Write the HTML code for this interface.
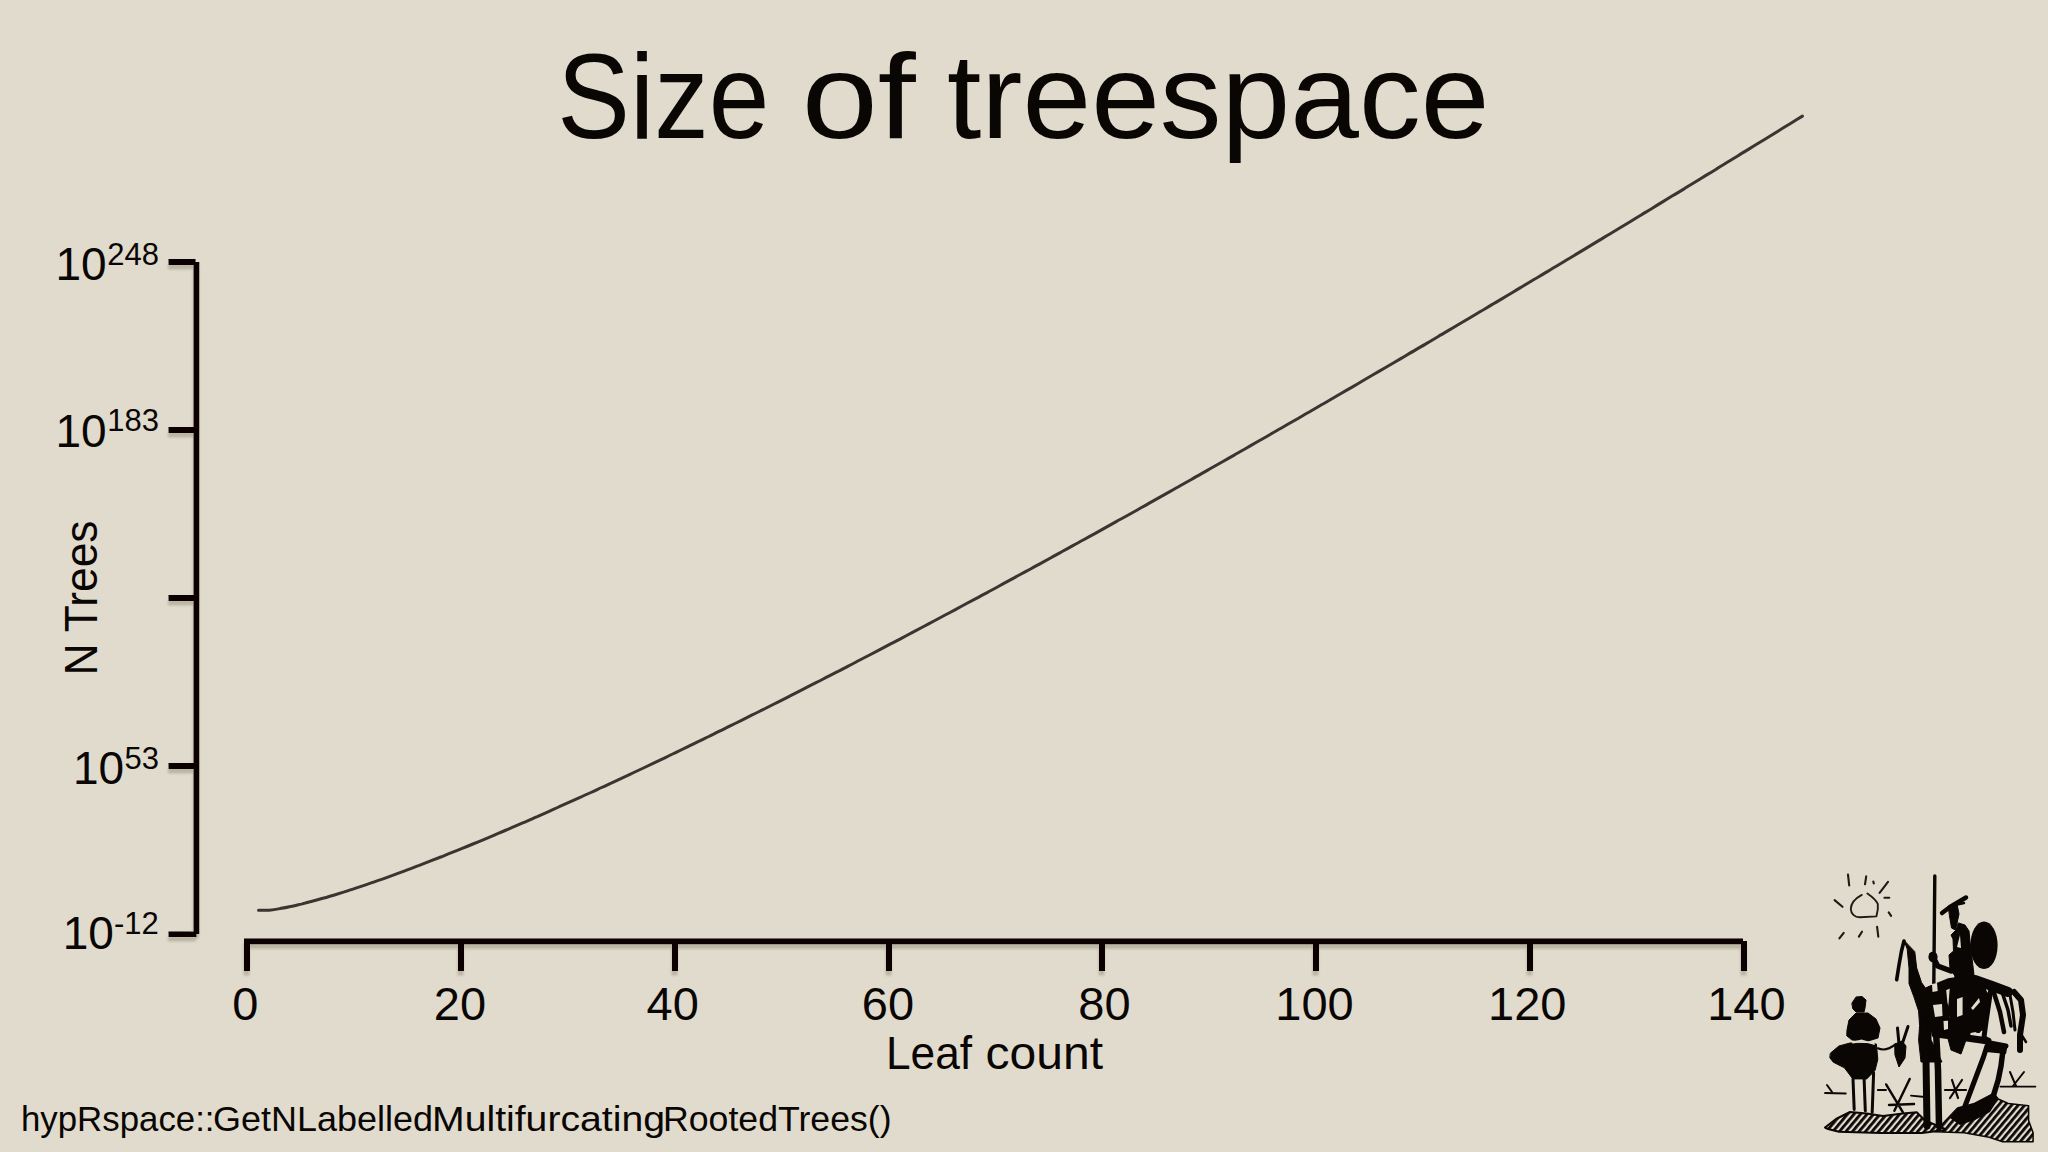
<!DOCTYPE html>
<html><head><meta charset="utf-8">
<style>
html,body{margin:0;padding:0;background:#e0dbcd;}
body{width:2048px;height:1152px;overflow:hidden;position:relative;}
svg{position:absolute;left:0;top:0;}
text{font-family:"Liberation Sans",sans-serif;fill:#0a0604;}
</style></head><body>
<svg width="2048" height="1152" viewBox="0 0 2048 1152">
<rect x="0" y="0" width="2048" height="1152" fill="#e0dbcd"/>
<!-- title -->
<g font-size="121">
<text x="557.3" y="138" textLength="212" lengthAdjust="spacingAndGlyphs">Size</text>
<text x="801.8" y="138" textLength="114" lengthAdjust="spacingAndGlyphs">of</text>
<text x="947" y="138" textLength="542.5" lengthAdjust="spacingAndGlyphs">treespace</text>
</g>
<!-- curve -->
<path d="M258.5 910.2 C260.3 910.2 265.6 910.5 269.2 910.2 C272.8 909.9 276.4 909.3 279.9 908.6 C283.5 908.0 287.1 907.3 290.7 906.5 C294.2 905.8 297.8 904.9 301.4 904.1 C305.0 903.2 308.5 902.3 312.1 901.3 C315.7 900.4 319.3 899.4 322.8 898.3 C326.4 897.3 330.0 896.3 333.6 895.2 C337.1 894.1 340.7 893.0 344.3 891.9 C347.8 890.7 351.4 889.6 355.0 888.4 C358.6 887.2 362.1 886.0 365.7 884.8 C369.3 883.6 372.9 882.4 376.4 881.1 C380.0 879.9 383.6 878.6 387.2 877.3 C390.7 876.0 394.3 874.7 397.9 873.4 C401.5 872.1 405.0 870.8 408.6 869.4 C412.2 868.1 415.7 866.7 419.3 865.4 C422.9 864.0 426.5 862.6 430.0 861.2 C433.6 859.8 437.2 858.4 440.8 857.0 C444.3 855.6 447.9 854.2 451.5 852.7 C455.1 851.3 458.6 849.9 462.2 848.4 C465.8 847.0 469.4 845.5 472.9 844.0 C476.5 842.5 480.1 841.1 483.7 839.6 C487.2 838.1 490.8 836.6 494.4 835.1 C497.9 833.6 501.5 832.0 505.1 830.5 C508.7 829.0 512.2 827.5 515.8 825.9 C519.4 824.4 523.0 822.8 526.5 821.3 C530.1 819.7 533.7 818.1 537.3 816.6 C540.8 815.0 544.4 813.4 548.0 811.8 C551.6 810.2 555.1 808.6 558.7 807.0 C562.3 805.4 565.9 803.8 569.4 802.2 C573.0 800.6 576.6 799.0 580.1 797.4 C583.7 795.7 587.3 794.1 590.9 792.5 C594.4 790.8 598.0 789.2 601.6 787.5 C605.2 785.9 608.7 784.2 612.3 782.6 C615.9 780.9 619.5 779.2 623.0 777.6 C626.6 775.9 630.2 774.2 633.8 772.5 C637.3 770.9 640.9 769.2 644.5 767.5 C648.0 765.8 651.6 764.1 655.2 762.4 C658.8 760.7 662.3 759.0 665.9 757.3 C669.5 755.5 673.1 753.8 676.6 752.1 C680.2 750.4 683.8 748.6 687.4 746.9 C690.9 745.2 694.5 743.4 698.1 741.7 C701.7 740.0 705.2 738.2 708.8 736.5 C712.4 734.7 716.0 733.0 719.5 731.2 C723.1 729.4 726.7 727.7 730.2 725.9 C733.8 724.1 737.4 722.4 741.0 720.6 C744.5 718.8 748.1 717.0 751.7 715.2 C755.3 713.5 758.8 711.7 762.4 709.9 C766.0 708.1 769.6 706.3 773.1 704.5 C776.7 702.7 780.3 700.9 783.9 699.1 C787.4 697.3 791.0 695.4 794.6 693.6 C798.2 691.8 801.7 690.0 805.3 688.2 C808.9 686.3 812.4 684.5 816.0 682.7 C819.6 680.9 823.2 679.0 826.7 677.2 C830.3 675.3 833.9 673.5 837.5 671.7 C841.0 669.8 844.6 668.0 848.2 666.1 C851.8 664.3 855.3 662.4 858.9 660.5 C862.5 658.7 866.1 656.8 869.6 655.0 C873.2 653.1 876.8 651.2 880.3 649.4 C883.9 647.5 887.5 645.6 891.1 643.7 C894.6 641.8 898.2 640.0 901.8 638.1 C905.4 636.2 908.9 634.3 912.5 632.4 C916.1 630.5 919.7 628.6 923.2 626.7 C926.8 624.8 930.4 622.9 934.0 621.0 C937.5 619.1 941.1 617.2 944.7 615.3 C948.3 613.4 951.8 611.5 955.4 609.6 C959.0 607.7 962.5 605.8 966.1 603.8 C969.7 601.9 973.3 600.0 976.8 598.1 C980.4 596.1 984.0 594.2 987.6 592.3 C991.1 590.4 994.7 588.4 998.3 586.5 C1001.9 584.5 1005.4 582.6 1009.0 580.7 C1012.6 578.7 1016.2 576.8 1019.7 574.8 C1023.3 572.9 1026.9 570.9 1030.5 569.0 C1034.0 567.0 1037.6 565.1 1041.2 563.1 C1044.7 561.2 1048.3 559.2 1051.9 557.2 C1055.5 555.3 1059.0 553.3 1062.6 551.3 C1066.2 549.4 1069.8 547.4 1073.3 545.4 C1076.9 543.5 1080.5 541.5 1084.1 539.5 C1087.6 537.5 1091.2 535.5 1094.8 533.6 C1098.4 531.6 1101.9 529.6 1105.5 527.6 C1109.1 525.6 1112.6 523.6 1116.2 521.6 C1119.8 519.6 1123.4 517.7 1126.9 515.7 C1130.5 513.7 1134.1 511.7 1137.7 509.7 C1141.2 507.7 1144.8 505.7 1148.4 503.6 C1152.0 501.6 1155.5 499.6 1159.1 497.6 C1162.7 495.6 1166.3 493.6 1169.8 491.6 C1173.4 489.6 1177.0 487.6 1180.6 485.5 C1184.1 483.5 1187.7 481.5 1191.3 479.5 C1194.8 477.4 1198.4 475.4 1202.0 473.4 C1205.6 471.4 1209.1 469.3 1212.7 467.3 C1216.3 465.3 1219.9 463.2 1223.4 461.2 C1227.0 459.2 1230.6 457.1 1234.2 455.1 C1237.7 453.1 1241.3 451.0 1244.9 449.0 C1248.5 446.9 1252.0 444.9 1255.6 442.8 C1259.2 440.8 1262.7 438.7 1266.3 436.7 C1269.9 434.6 1273.5 432.6 1277.0 430.5 C1280.6 428.5 1284.2 426.4 1287.8 424.3 C1291.3 422.3 1294.9 420.2 1298.5 418.2 C1302.1 416.1 1305.6 414.0 1309.2 412.0 C1312.8 409.9 1316.4 407.8 1319.9 405.7 C1323.5 403.7 1327.1 401.6 1330.7 399.5 C1334.2 397.5 1337.8 395.4 1341.4 393.3 C1344.9 391.2 1348.5 389.1 1352.1 387.1 C1355.7 385.0 1359.2 382.9 1362.8 380.8 C1366.4 378.7 1370.0 376.6 1373.5 374.5 C1377.1 372.4 1380.7 370.4 1384.3 368.3 C1387.8 366.2 1391.4 364.1 1395.0 362.0 C1398.6 359.9 1402.1 357.8 1405.7 355.7 C1409.3 353.6 1412.9 351.5 1416.4 349.4 C1420.0 347.3 1423.6 345.2 1427.1 343.1 C1430.7 340.9 1434.3 338.8 1437.9 336.7 C1441.4 334.6 1445.0 332.5 1448.6 330.4 C1452.2 328.3 1455.7 326.2 1459.3 324.0 C1462.9 321.9 1466.5 319.8 1470.0 317.7 C1473.6 315.6 1477.2 313.4 1480.8 311.3 C1484.3 309.2 1487.9 307.1 1491.5 304.9 C1495.0 302.8 1498.6 300.7 1502.2 298.6 C1505.8 296.4 1509.3 294.3 1512.9 292.2 C1516.5 290.0 1520.1 287.9 1523.6 285.8 C1527.2 283.6 1530.8 281.5 1534.4 279.3 C1537.9 277.2 1541.5 275.1 1545.1 272.9 C1548.7 270.8 1552.2 268.6 1555.8 266.5 C1559.4 264.3 1563.0 262.2 1566.5 260.0 C1570.1 257.9 1573.7 255.7 1577.2 253.6 C1580.8 251.4 1584.4 249.3 1588.0 247.1 C1591.5 245.0 1595.1 242.8 1598.7 240.6 C1602.3 238.5 1605.8 236.3 1609.4 234.2 C1613.0 232.0 1616.6 229.8 1620.1 227.7 C1623.7 225.5 1627.3 223.3 1630.9 221.2 C1634.4 219.0 1638.0 216.8 1641.6 214.7 C1645.2 212.5 1648.7 210.3 1652.3 208.2 C1655.9 206.0 1659.4 203.8 1663.0 201.6 C1666.6 199.5 1670.2 197.3 1673.7 195.1 C1677.3 192.9 1680.9 190.7 1684.5 188.6 C1688.0 186.4 1691.6 184.2 1695.2 182.0 C1698.8 179.8 1702.3 177.6 1705.9 175.4 C1709.5 173.3 1713.1 171.1 1716.6 168.9 C1720.2 166.7 1723.8 164.5 1727.3 162.3 C1730.9 160.1 1734.5 157.9 1738.1 155.7 C1741.6 153.5 1745.2 151.3 1748.8 149.1 C1752.4 146.9 1755.9 144.7 1759.5 142.5 C1763.1 140.3 1766.7 138.1 1770.2 135.9 C1773.8 133.7 1777.4 131.5 1781.0 129.3 C1784.5 127.1 1788.1 124.9 1791.7 122.7 C1795.3 120.5 1800.6 117.2 1802.4 116.1" fill="none" stroke="#3a3531" stroke-width="3" stroke-linecap="round"/>
<defs><filter id="sh" x="-5%" y="-5%" width="110%" height="120%"><feDropShadow dx="-0.5" dy="4.5" stdDeviation="1" flood-color="#9c9682" flood-opacity="0.55"/></filter></defs>
<!-- y axis -->
<g fill="#0a0604" filter="url(#sh)">
<rect x="193.5" y="262" width="5.8" height="672"/>
<rect x="168.5" y="259" width="27" height="6"/>
<rect x="168.5" y="427" width="27" height="6"/>
<rect x="168.5" y="595" width="27" height="6"/>
<rect x="168.5" y="763" width="27" height="6"/>
<rect x="168.5" y="931.5" width="28" height="5.5"/>
<!-- x axis -->
<rect x="244" y="938.5" width="1499" height="5.8"/>
<rect x="244" y="941" width="6" height="30"/>
<rect x="458" y="941" width="6" height="30"/>
<rect x="672" y="941" width="6" height="30"/>
<rect x="886" y="941" width="6" height="30"/>
<rect x="1099" y="941" width="6" height="30"/>
<rect x="1313" y="941" width="6" height="30"/>
<rect x="1527" y="941" width="6" height="30"/>
<rect x="1741" y="941" width="6" height="30"/>
</g>
<!-- y labels -->
<g font-size="46">
<text x="55.5" y="280">10</text><text x="107.3" y="264.5" font-size="31">248</text>
<text x="55.5" y="447">10</text><text x="107.3" y="431" font-size="31">183</text>
<text x="73" y="784">10</text><text x="124.4" y="769" font-size="31">53</text>
<text x="62.7" y="949">10</text><text x="113.9" y="933.5" font-size="31">-12</text>
</g>
<text x="97" y="675.6" font-size="46" textLength="155" lengthAdjust="spacingAndGlyphs" transform="rotate(-90 97 675.6)">N Trees</text>
<!-- x labels -->
<g font-size="47" text-anchor="middle">
<text x="245.3" y="1020">0</text>
<text x="460" y="1020">20</text>
<text x="672.7" y="1020">40</text>
<text x="888" y="1020">60</text>
<text x="1104.4" y="1020">80</text>
<text x="1314.5" y="1020">100</text>
<text x="1527.3" y="1020">120</text>
<text x="1746.4" y="1020">140</text>
</g>
<text x="886" y="1069" font-size="46" textLength="86" lengthAdjust="spacingAndGlyphs">Leaf</text><text x="985.5" y="1069" font-size="46" textLength="117.5" lengthAdjust="spacingAndGlyphs">count</text>
<g font-size="35">
<text x="21" y="1130.5" textLength="193.5" lengthAdjust="spacingAndGlyphs">hypRspace::</text>
<text x="213" y="1130.5" textLength="220" lengthAdjust="spacingAndGlyphs">GetNLabelled</text>
<text x="432" y="1130.5" textLength="233" lengthAdjust="spacingAndGlyphs">Multifurcating</text>
<text x="663" y="1130.5" textLength="228.6" lengthAdjust="spacingAndGlyphs">RootedTrees()</text>
</g>
<!-- quixote -->
<g id="quixote" fill="#0a0604" stroke="#0a0604" stroke-linecap="round" stroke-linejoin="round">
<defs>
<pattern id="hatch" patternUnits="userSpaceOnUse" width="5" height="5" patternTransform="rotate(40)"><rect x="0" y="0" width="2.8" height="5" fill="#0a0604" stroke="none"/></pattern>
</defs>
<!-- sun -->
<path d="M1861.8,894.9 C1856,898 1851,903 1850.8,909 C1851,914 1855,917.5 1860,917.3 L1876.4,916.4 L1877.8,909.4 L1877.8,903.9 C1876,900 1871,896 1867.4,893.5" fill="none" stroke-width="1.9" stroke="#1e1a16"/>
<g stroke-width="2.1" fill="none" stroke="#1e1a16">
<path d="M1848,874.6 L1849.2,885.5"/>
<path d="M1866.2,876.4 L1865,884.3"/>
<path d="M1873.3,881.5 L1873.8,883.5"/>
<path d="M1888,881.9 L1879.6,892.8"/>
<path d="M1884.4,897.7 L1889.3,897.7"/>
<path d="M1834.6,900.1 L1842.5,906.8"/>
<path d="M1888.7,912.3 L1891.1,915.9"/>
<path d="M1839.4,938.4 L1843.7,932.9"/>
<path d="M1858.9,936.6 L1862,931.7"/>
<path d="M1877.1,926.8 L1878.3,936.6"/>
</g>
<!-- lance -->
<path d="M1934.8,876 L1934.3,930 L1933.8,985" stroke-width="3.4" fill="none"/>
<!-- helmet brim + feather -->
<path d="M1942,913 L1950,907 L1966,897.5" stroke-width="4.5" fill="none"/>
<path d="M1955,905 L1964,903" stroke-width="2.5" fill="none"/>
<path d="M1948.5,906 L1957,904 L1959,914 L1955.5,930 L1951.5,928 L1949.5,916 Z" stroke-width="1"/>
<!-- torso -->
<path d="M1958.5,923 L1965,925 L1969,931 L1970,942 L1972,958 L1974,975 L1977,990 L1972,1001 L1953,1001 L1952,988 L1955,976 L1950,969 L1949,955 L1953.5,951 L1953,939 L1951,935 L1956,930 Z" stroke-width="1"/>
<path d="M1957,947 L1960,935 L1961,948 Z" fill="#e0dbcd" stroke="none"/>
<!-- shield -->
<ellipse cx="1984" cy="945.3" rx="13.6" ry="23.8" stroke="none"/>
<!-- arm + hand -->
<path d="M1932,955 L1937.7,966 L1951,971" stroke-width="5.5" fill="none"/>
<ellipse cx="1933" cy="957" rx="4.6" ry="5.4" stroke="none"/>
<!-- horse head: face line -->
<path d="M1904,941 L1901.5,951 L1899,965 L1896.7,979.6" stroke-width="3.6" fill="none"/>
<!-- neck -->
<path d="M1904,940.5 L1907.2,949 L1909,968 L1909,983.5 L1913.9,996.8 L1918.6,1011 L1919.6,1025.5 L1918.6,1040 L1921,1062 L1942,1062 L1931,1040 L1931,1016 L1933,1001.6 L1928.2,992 L1921.5,982.5 L1916.7,968 L1914.8,952 Z" stroke-width="1"/>
<!-- horse body -->
<g fill="none">
<path d="M1928,992 L1950,983 L1975,980 L1992,986 L2008,992" stroke-width="10"/>
<path d="M1931,990 L1933,1012 L1936,1034" stroke-width="9"/>
<path d="M1936,1034 L1960,1037 L1988,1041" stroke-width="7"/>
<path d="M1991,988 L1986,1022 L1984,1037 L1990,1043 L2006,1046" stroke-width="5"/>
<path d="M1994,993 L2000,1012 L2004,1032" stroke-width="4.5"/>
<path d="M2002,992 L2008,1010 L2011,1026" stroke-width="3.5"/>
<path d="M1975,986 L1980,1000 L1978,1030" stroke-width="6"/>
<path d="M1940,995 L1948,1010 L1946,1030" stroke-width="5"/>
<path d="M1966,1000 L1968,1034" stroke-width="5"/>
<path d="M1983,1000 L1990,992" stroke-width="3"/>
</g>
<path d="M1949,1018 L1963,1020 L1966,1040 L1961,1054 L1951,1050 L1947,1035 Z" stroke-width="1"/>
<path d="M1950,985 L1984,984 L1990,1000 L1986,1030 L1955,1036 L1948,1010 Z" stroke="none"/>
<path d="M1928,990 L1946,988 L1950,1030 L1936,1037 L1930,1015 Z" stroke="none"/>
<g fill="#e0dbcd" stroke="none">
<path d="M1933,1005 L1942,1004 L1942.5,1016 L1935,1017 Z"/>
<path d="M1957,999 L1962.6,997 L1962.6,1015 L1957,1017 Z"/>
<path d="M1971,1008 L1979,998 L1980,1002 L1973,1010 Z"/>
<path d="M1943.5,1021 L1948,1020.7 L1948,1029 L1944,1030 Z"/>
<path d="M1932,984 L1937,983 L1937.7,991 L1932.5,992 Z"/>
</g>
<!-- tail -->
<g fill="none">
<path d="M2014,992 L2021,1000 L2023,1015 L2020,1035 L2020,1050" stroke-width="6"/>
<path d="M2010,995 L2013,1012 L2015,1030" stroke-width="3"/>
<path d="M2021,1034 L2026,1042" stroke-width="2.5"/>
</g>
<!-- rear legs -->
<path d="M1987,1046 L1983.5,1057 L1964.3,1108" stroke-width="5" fill="none"/>
<path d="M2003,1050 L2001,1066 L1998.2,1080 L1993,1097" stroke-width="5.5" fill="none"/>
<path d="M1985.8,1044.5 L2007.7,1045 L2006,1054 L1986,1052 Z" stroke="none"/>
<!-- front legs -->
<path d="M1924,1022 L1926,1060 L1927,1126" stroke-width="7" fill="none"/>
<path d="M1936,1030 L1938,1070 L1939,1126" stroke-width="6.5" fill="none"/>
<!-- sancho -->
<path d="M1852,1003 L1856,997 L1862,996.5 L1866,1000 L1865,1008 L1864,1012 L1856,1012 L1853,1009 Z" stroke-width="1"/>
<path d="M1847,1030 L1849,1020 L1856,1013 L1868,1013 L1876,1019 L1880,1028 L1878,1038 L1868,1041 L1852,1040 L1847,1036 Z" stroke-width="1"/>
<path d="M1830.6,1053 L1838.9,1046 L1850,1043 L1876.4,1044 L1877.8,1059.4 L1875,1070.6 L1866.7,1078.9 L1852.8,1078.9 L1844.4,1067.8 L1833.3,1062.2 L1830,1058 Z" stroke-width="1"/>
<path d="M1853,1042.5 L1862,1040.5 L1874,1044" stroke="#e0dbcd" stroke-width="1.8" fill="none"/>
<path d="M1877.8,1048.3 Q1886,1052 1895.8,1044.2" stroke-width="2.2" fill="none"/>
<path d="M1895,1044 L1902,1041 L1906,1046 L1905,1058 L1899,1067 L1895,1055 Z" stroke-width="1"/>
<path d="M1897.5,1028 L1899,1044 M1908,1026.5 L1902.5,1043" stroke-width="3" fill="none"/>
<path d="M1853,1079 L1854.2,1109.4 M1864,1076 L1865.3,1110.8 M1873.6,1073 L1872.2,1112.2" stroke-width="3" fill="none"/>
<!-- ground left -->
<path d="M1825,1127.5 L1836,1119 L1850,1112 L1866.7,1113.6 L1883,1116 L1902.8,1113.6 L1916.7,1112.2 L1925,1120.5 L1945,1129 L1945,1130 L1922,1133 L1880.5,1133 L1839,1131.7 L1828,1129 Z" fill="url(#hatch)" stroke-width="2"/>
<!-- ground right -->
<path d="M1935,1131.7 L1957.6,1108 L1974.5,1103.5 L1993.7,1093.3 L1998.2,1099 L2008.3,1103.5 L2028.6,1105.7 L2028.6,1120.4 L2033.1,1132.8 L2033.1,1141.8 L2002.7,1141.8 L1989.2,1137.3 L1964.3,1132.8 Z" fill="url(#hatch)" stroke-width="1.5"/>
<path d="M1950,1118 L1957.6,1108 L1974.5,1103.5 L1993.7,1093.3 L1998.2,1099 L1990,1112 L1975,1120 L1960,1125 Z" stroke="none"/>
<!-- horizon + windmills -->
<path d="M1825,1093 L1845.8,1093.5 M1877.8,1090 L1886,1090 M1911,1095.6 L1925,1097 M2000.4,1086.6 L2035.4,1086.6" stroke-width="1.8" fill="none"/>
<path d="M1886.1,1084.4 L1902.8,1112.2 M1909.7,1078.9 L1894.4,1110.8 M1889,1105 L1914,1104" stroke-width="2.4" fill="none"/>
<path d="M1952,1080 L1958,1098 M1962,1080 L1950,1098 M1945,1090 L1966,1090" stroke-width="2.2" fill="none"/>
<path d="M2010,1072 L2016,1086 M2024,1072 L2013,1086" stroke-width="2" fill="none"/>
<path d="M1827,1085 L1832,1092" stroke-width="2" fill="none"/>
</g>
</svg>
</body></html>
